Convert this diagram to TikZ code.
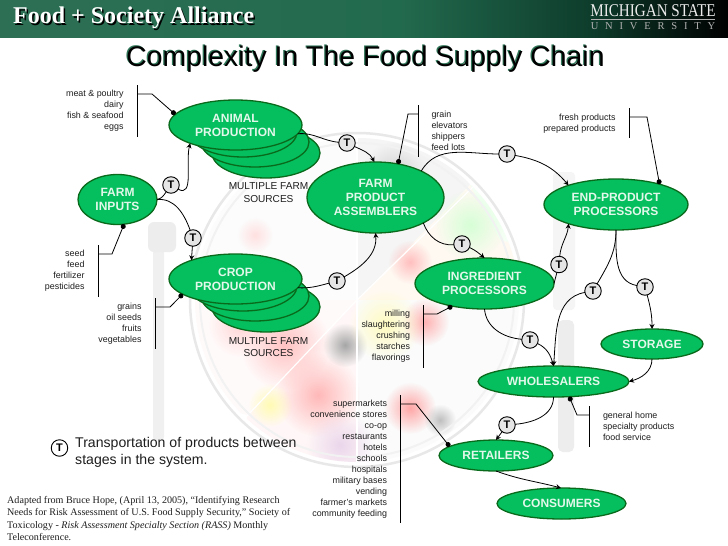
\documentclass[tikz,border=0pt]{standalone}
\usepackage{graphicx}
\usepackage{fontspec}
\setmainfont{Liberation Sans}
\newfontfamily\tms{Liberation Serif}
\newfontfamily\msuu[LetterSpace=65]{Liberation Serif}
\usetikzlibrary{shapes.geometric,arrows.meta,fadings}
\definecolor{stagegreen}{HTML}{05BE5E}
\definecolor{stageedge}{HTML}{0A6A1C}
\definecolor{stagetext}{HTML}{E2F8EA}
\definecolor{hdrA}{HTML}{2D6F55}
\definecolor{hdrB}{HTML}{226A4E}
\definecolor{hdrC}{HTML}{0E3D2C}
\definecolor{titlegreen}{HTML}{2F7558}
\definecolor{labeltext}{HTML}{1E1E1E}
\tikzfading[name=softblob,inner color=transparent!0,outer color=transparent!100]
\tikzset{
  stage/.style={ellipse,draw=stageedge,fill=stagegreen,line width=1.3pt,inner sep=0pt,outer sep=0pt,
    text=stagetext,align=center,font=\bfseries\fontsize{12}{14}\selectfont},
  stacked/.style={draw=stageedge,fill=stagegreen,line width=1.3pt},
  tcircle/.style={circle,draw=black,fill=black!10,line width=0.9pt,minimum size=16.5pt,inner sep=0pt,outer sep=0pt,
    font=\bfseries\fontsize{11}{11}\selectfont},
  note/.style={inner sep=0pt,outer sep=0pt,text=labeltext,font=\fontsize{8.9}{11}\selectfont},
  caption/.style={inner sep=0pt,outer sep=0pt,align=center,text=labeltext,font=\fontsize{10.1}{12.5}\selectfont},
  flow/.style={draw=black,line width=0.8pt},
  flowtip/.style={flow,-{Stealth[length=5pt,width=5pt]}},
  lead/.style={draw=black,line width=0.8pt,-{Circle[length=5pt,width=5pt]}},
  bar/.style={draw=black,line width=0.8pt},
  blob/.style={path fading=softblob,fit fading=true},
}
\begin{document}
\begin{tikzpicture}[x=1pt,y=-1pt,line cap=butt]
\useasboundingbox (0,0) rectangle (728,546);
\fill[white] (0,0) rectangle (728,546);
% ---- faint plate, fork and knife in the background
\coordinate (P) at (357,300);
\begin{scope}
\clip (P) circle[radius=162];
\fill[black!4] (P) -- (357,130) -- (440,130) -- (470,185) -- cycle;
\fill[green!4] (P) -- (470,185) -- (540,190) -- (540,300) -- (505,300) -- cycle;
\fill[orange!5] (P) -- (510,300) -- (540,250) -- (500,240) -- (470,185) -- cycle;
\fill[yellow!7] (P) -- (357,380) -- (440,370) -- (430,300) -- cycle;
\fill[black!1.5] (P) -- (540,300) -- (540,470) -- (357,470) -- cycle;
\fill[red!3] (P) -- (357,470) -- (240,470) -- (247,415) -- cycle;
\fill[red!2] (P) -- (247,415) -- (190,400) -- (190,300) -- cycle;
\fill[black!1] (P) -- (190,300) -- (190,130) -- (357,130) -- cycle;
\fill[red!24,blob] (285,345) circle[radius=45];
\fill[red!16,blob] (240,325) circle[radius=32];
\fill[red!28,blob] (318,395) circle[radius=42];
\fill[violet!16,blob] (340,445) circle[radius=34];
\fill[yellow!30,blob] (270,405) circle[radius=22];
\fill[black!35,blob] (345,345) circle[radius=22];
\fill[red!30,blob] (425,322) circle[radius=24];
\fill[red!35,blob] (410,408) circle[radius=26];
\fill[black!25,blob] (440,420) circle[radius=16];
\fill[red!25,blob] (410,262) circle[radius=22];
\fill[yellow!25,blob] (385,325) circle[radius=36];
\fill[black!18,blob] (395,175) circle[radius=34];
\fill[green!16,blob] (470,225) circle[radius=36];
\fill[red!12,blob] (255,235) circle[radius=18];
\draw[white,line width=1.2pt] (P) -- (245,418);
\draw[white,line width=1.2pt] (P) -- (475,185);
\draw[white,line width=1.2pt] (357,130) -- (357,470);
\end{scope}
\draw[black!9,line width=2.5pt] (P) circle[radius=167];
\draw[black!5,line width=2pt] (P) circle[radius=157];
\fill[black!6,rounded corners=3pt] (153,250) rectangle (164,440);
\fill[black!7,rounded corners=6pt] (148,222) rectangle (176,252);
\fill[black!4,rounded corners=4pt] (553,172) rectangle (575,310);
\fill[black!7,rounded corners=5pt] (558,320) rectangle (574,452);
% ---- header band
\fill[left color=hdrA,right color=hdrB] (0,0) rectangle (400,37);
\fill[left color=hdrB,right color=hdrC] (399.5,0) rectangle (590,37);
\fill[left color=hdrC,right color=black] (589.5,0) rectangle (728,37);
\node[anchor=west,inner sep=0pt,text=black,font=\tms\bfseries\fontsize{24}{26}\selectfont] (hdrshadow) at (14.5,19.5) {Food + Society Alliance};
\node[anchor=west,inner sep=0pt,text=white,font=\tms\bfseries\fontsize{24}{26}\selectfont] (hdr) at (13,18) {Food + Society Alliance};
\node[anchor=center,inner sep=0pt,text=white!92!black,font=\tms\fontsize{18}{19}\selectfont] (msua) at (653,10.5) {\scalebox{.84}[1]{MICHIGAN STATE}};
\node[anchor=center,inner sep=0pt,text=white!70!black,font=\msuu\fontsize{10.5}{11}\selectfont] (msub) at (653,26) {UNIVERSITY};
\draw[white!70!black,line width=0.5pt] (591,19) -- (715,19);
% ---- title
\node[inner sep=0pt,text=titlegreen,font=\fontsize{28.4}{30}\selectfont] (titleback) at (364.3,57.8) {Complexity In The Food Supply Chain};
\node[inner sep=0pt,text=black,font=\fontsize{28.4}{30}\selectfont] (title) at (365.5,59) {Complexity In The Food Supply Chain};
% ---- stacked farm ellipses
\draw[stacked] (266,153) ellipse[x radius=54,y radius=25];
\draw[stacked] (255,142) ellipse[x radius=54,y radius=25];
\draw[stacked] (243,132) ellipse[x radius=54,y radius=25];
\draw[stacked] (266,307) ellipse[x radius=54,y radius=25];
\draw[stacked] (255,296) ellipse[x radius=54,y radius=25];
\draw[stacked] (243,286) ellipse[x radius=54,y radius=25];
% ---- stages
\node[stage,minimum width=79pt,minimum height=50pt] (farm) at (117.5,199.5) {FARM\\INPUTS};
\node[stage,minimum width=133pt,minimum height=50pt] (animal) at (235.5,125) {ANIMAL\\PRODUCTION};
\node[stage,minimum width=133pt,minimum height=50pt] (crop) at (235.5,279) {CROP\\PRODUCTION};
\node[stage,minimum width=137pt,minimum height=71pt] (assemblers) at (375.5,197.5) {FARM\\PRODUCT\\ASSEMBLERS};
\node[stage,minimum width=144pt,minimum height=51pt] (endprod) at (616,204.5) {END-PRODUCT\\PROCESSORS};
\node[stage,minimum width=139pt,minimum height=51pt] (ingredient) at (484.5,283.5) {INGREDIENT\\PROCESSORS};
\node[stage,minimum width=151pt,minimum height=31pt] (whole) at (553.5,381.5) {WHOLESALERS};
\node[stage,minimum width=102pt,minimum height=30pt] (storage) at (652,344) {STORAGE};
\node[stage,minimum width=114pt,minimum height=31pt] (retail) at (496,455.5) {RETAILERS};
\node[stage,minimum width=129pt,minimum height=31pt] (consumer) at (561.5,503.5) {CONSUMERS};
% ---- transport markers
\node[tcircle] (t1) at (171,185) {T};
\node[tcircle] (t2) at (193,238) {T};
\node[tcircle] (t3) at (347,143) {T};
\node[tcircle] (t4) at (507,154) {T};
\node[tcircle] (t5) at (462,244) {T};
\node[tcircle] (t6) at (559,264.5) {T};
\node[tcircle] (t7) at (593,291) {T};
\node[tcircle] (t8) at (645,287) {T};
\node[tcircle] (t9) at (530,340) {T};
\node[tcircle] (t10) at (507,425) {T};
\node[tcircle] (t11) at (337,281) {T};
\node[tcircle,fill=white] (tkey) at (59.5,448) {T};
% ---- flows
\draw[flow] (farm.0) to[out=10,in=235] (t1);
\draw[flowtip] (t1) to[out=-30,in=255] (animal.202);
\draw[flow] (farm.0) to[out=5,in=110] (t2);
\draw[flowtip] (t2) -- (crop.157);
\draw[flow] (animal.-8) to[out=5,in=175] (t3);
\draw[flowtip] (t3) to[out=-25,in=115] (assemblers.92);
\draw[flow] (assemblers.30) to[out=60,in=180] (t4);
\draw[flowtip] (t4) to[out=-10,in=130] (endprod.158);
\draw[flow] (assemblers.-28) to[out=-70,in=185] (t5);
\draw[flowtip] (t5) to[out=-25,in=140] (ingredient.90);
\draw[flow] (crop.-8) to[out=-3,in=195] (t11);
\draw[flowtip] (t11) to[out=30,in=-85] (assemblers.-90);
\draw[flow] (ingredient.0) -- (t6);
\draw[flowtip] (t6) to[out=85,in=265] (endprod.202);
\draw[flow] (endprod.-90) to[out=-90,in=60] (t7);
\draw[flowtip] (t7) to[out=190,in=85] (whole.90);
\draw[flow] (endprod.-90) to[out=-90,in=170] (t8);
\draw[flowtip] (t8) to[out=-75,in=90] (storage.90);
\draw[flow] (ingredient.-90) to[out=-85,in=175] (t9);
\draw[flowtip] (t9) to[out=-25,in=105] (whole.90);
\draw[flowtip] (storage.-90) to[out=-90,in=15] (whole.0);
\draw[flow] (whole.-90) to[out=-90,in=5] (t10);
\draw[flowtip] (t10) -- (retail.90);
\draw[flowtip] (retail.-90) to[out=-20,in=165] (consumer.92);
% ---- notes with their brackets
\node[note,anchor=east,align=right] (n1) at (123.5,110.5) {meat \& poultry\\dairy\\fish \& seafood\\eggs};
\coordinate (b1) at (137,94);
\draw[bar] (137,85) -- (137,136.5);
\draw[lead] (b1) -- (152,94) -- (animal.170);
\node[note,anchor=east,align=right] (n2) at (84.5,270.5) {seed\\feed\\fertilizer\\pesticides};
\coordinate (b2) at (98.5,254);
\draw[bar] (98.5,245) -- (98.5,297);
\draw[lead] (b2) -- (112,254) -- (farm.-75);
\node[note,anchor=east,align=right] (n3) at (141.5,323.5) {grains\\oil seeds\\fruits\\vegetables};
\coordinate (b3) at (155.5,307);
\draw[bar] (155.5,298) -- (155.5,349);
\draw[lead] (b3) -- (170,307) -- (crop.196);
\node[note,anchor=west,align=left] (n4) at (431.5,131) {grain\\elevators\\shippers\\feed lots};
\coordinate (b4) at (418.5,114);
\draw[bar] (418.5,105) -- (418.5,157);
\draw[lead] (b4) -- (408,114) -- (assemblers.56);
\node[note,anchor=east,align=right] (n5) at (615.5,123.5) {fresh products\\prepared products};
\coordinate (b5) at (629.5,117);
\draw[bar] (629.5,108) -- (629.5,138);
\draw[lead] (b5) -- (647,117) -- (endprod.25);
\node[note,anchor=east,align=right] (n6) at (410,336) {milling\\slaughtering\\crushing\\starches\\flavorings};
\coordinate (b6) at (423.5,314);
\draw[bar] (423.5,305) -- (423.5,367.5);
\draw[lead] (b6) -- (437,314) -- (ingredient.215);
\node[note,anchor=east,align=right] (n7) at (387,459) {supermarkets\\convenience stores\\co-op\\restaurants\\hotels\\schools\\hospitals\\military bases\\vending\\farmer's markets\\community feeding};
\coordinate (b7) at (400.5,404);
\draw[bar] (400.5,395) -- (400.5,523);
\draw[lead] (b7) -- (416,404) -- (retail.169);
\node[note,anchor=west,align=left] (n8) at (603,426) {general home\\specialty products\\food service};
\coordinate (b8) at (589.5,415);
\draw[bar] (589.5,406) -- (589.5,446.5);
\draw[lead] (b8) -- (577,415) -- (whole.-44);
% ---- captions
\node[caption] (c1) at (268.5,192.5) {MULTIPLE FARM\\SOURCES};
\node[caption] (c2) at (268.5,347) {MULTIPLE FARM\\SOURCES};
\node[anchor=west,align=left,inner sep=0pt,text=labeltext,font=\fontsize{14.1}{17.3}\selectfont] (key) at (75,452.5) {Transportation of products between\\stages in the system.};
\node[anchor=west,align=left,inner sep=0pt,text=labeltext,font=\tms\fontsize{10.1}{12.2}\selectfont] (source) at (7,518.5) {Adapted from Bruce Hope, (April 13, 2005), “Identifying Research\\Needs for Risk Assessment of U.S. Food Supply Security,” Society of\\Toxicology - \textit{Risk Assessment Specialty Section (RASS)} Monthly\\Teleconference.};
\end{tikzpicture}
\end{document}
